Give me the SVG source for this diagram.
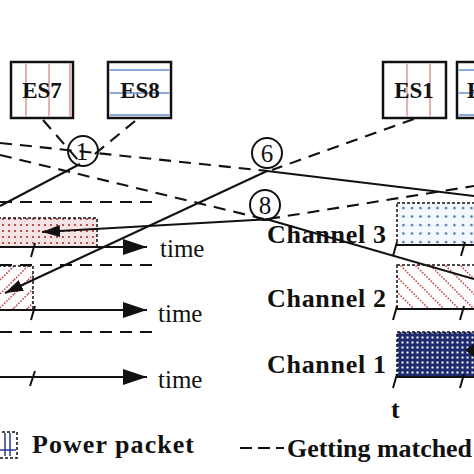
<svg xmlns="http://www.w3.org/2000/svg" width="474" height="474" viewBox="0 0 474 474">
<style>
.box{fill:#fff;stroke:#111;stroke-width:2.5}
.lbl{font-family:"Liberation Serif",serif;font-weight:bold;fill:#111}
.tm{font-family:"Liberation Serif",serif;font-size:25px;fill:#111}
.dash{fill:none;stroke:#111;stroke-width:2.1;stroke-dasharray:12,8}
.sol{fill:none;stroke:#111;stroke-width:2}
.pk{stroke:#111;stroke-width:1.5;stroke-dasharray:3,2}
.circ{fill:none;stroke:#111;stroke-width:2}
.pinkl{stroke:#d99;stroke-width:1.5}
.bluel{stroke:#8fa8d8;stroke-width:2}
</style>
<defs>
<pattern id="pinkDots" width="6" height="6" patternUnits="userSpaceOnUse"><rect width="6" height="6" fill="#f6e4e4"/><circle cx="3" cy="3" r="1.1" fill="#a83232"/></pattern>
<pattern id="blueDots" width="8.5" height="8.5" patternUnits="userSpaceOnUse"><rect width="8.5" height="8.5" fill="#f4f8fd"/><circle cx="4" cy="4" r="1.2" fill="#3c64b0"/></pattern>
<pattern id="hatchF" width="14" height="14" patternUnits="userSpaceOnUse"><rect width="14" height="14" fill="#fff"/><path d="M-2,2 L2,-2 M0,14 L14,0 M12,16 L16,12" stroke="#c84848" stroke-width="1.6" stroke-dasharray="1.6,1.4"/></pattern>
<pattern id="hatchB" width="15" height="15" patternUnits="userSpaceOnUse"><rect width="15" height="15" fill="#fff"/><path d="M-2,13 L2,17 M0,0 L15,15 M13,-2 L17,2" stroke="#c84848" stroke-width="1.6" stroke-dasharray="1.6,1.4"/></pattern>
<pattern id="navy" width="5" height="5" patternUnits="userSpaceOnUse"><rect width="5" height="5" fill="#1d2a6e"/><rect x="1.5" y="1.5" width="2" height="2" fill="#fff"/></pattern>
<marker id="big" markerWidth="24" markerHeight="16" refX="24" refY="8" orient="auto" markerUnits="userSpaceOnUse"><path d="M0,0 L24,8 L0,16 z" fill="#111"/></marker>
<marker id="sm" markerWidth="18" markerHeight="12" refX="18" refY="6" orient="auto" markerUnits="userSpaceOnUse"><path d="M0,0 L18,6 L0,12 z" fill="#111"/></marker>
</defs>
<rect width="474" height="474" fill="#fff"/>

<!-- channel boxes -->
<g id="left-ch3"><rect x="-2" y="218" width="99" height="29" fill="url(#pinkDots)" class="pk"/></g>
<g id="left-ch2"><rect x="-2" y="266" width="35" height="44" fill="url(#hatchF)" class="pk"/></g>
<g id="right-ch3"><rect x="397" y="203" width="80" height="42" fill="url(#blueDots)" class="pk"/></g>
<g id="right-ch2"><rect x="397" y="265" width="80" height="44" fill="url(#hatchB)" class="pk"/></g>
<g id="right-ch1"><rect x="397" y="332" width="80" height="45" fill="url(#navy)" class="pk"/><path d="M465,350 L474,344 L474,357 z" fill="#111"/></g>

<!-- ES nodes -->
<g id="ES7"><rect x="11" y="62" width="62" height="56" class="box"/><path d="M26,63.5V116.5M49,63.5V116.5M70,63.5V116.5" class="pinkl"/><text x="42" y="98" text-anchor="middle" class="lbl" font-size="23">ES7</text></g>
<g id="ES8"><rect x="108" y="62" width="63" height="56" class="box"/><path d="M109.5,70H169.5M109.5,93H169.5M109.5,115H169.5" class="bluel"/><text x="140" y="98" text-anchor="middle" class="lbl" font-size="23">ES8</text></g>
<g id="ES1"><rect x="383" y="62" width="63" height="56" class="box"/><path d="M407,63.5V116.5M430,63.5V116.5" class="pinkl"/><text x="414" y="98" text-anchor="middle" class="lbl" font-size="23">ES1</text></g>
<g id="ES2"><rect x="457" y="62" width="40" height="56" class="box"/><path d="M458.5,70H476M458.5,93H476M458.5,115H476" class="bluel"/><text x="467" y="98" class="lbl" font-size="23">ES2</text></g>

<!-- match circles -->
<g id="m1"><circle cx="83" cy="151" r="15" class="circ"/><text x="82" y="160" text-anchor="middle" class="tm" font-size="23">1</text></g>
<g id="m6"><circle cx="267" cy="153" r="15" class="circ"/><text x="267" y="162" text-anchor="middle" class="tm" font-size="26">6</text></g>
<g id="m8"><circle cx="265" cy="205" r="15" class="circ"/><text x="265" y="214" text-anchor="middle" class="tm" font-size="26">8</text></g>

<!-- connectors -->
<g id="connectors">
<path class="dash" d="M0,143 L268,171"/>
<path class="dash" d="M0,155 L264,219"/>
<path class="dash" d="M0,202 H160"/>
<path class="dash" d="M0,265 H157"/>
<path class="dash" d="M0,332 H157"/>
<path class="dash" d="M43,120 L78,160"/>
<path class="dash" d="M135,121 L90,158"/>
<path class="dash" d="M414,119 L272,170"/>
<path class="dash" d="M268,219 L474,186"/>
<path class="sol" d="M0,206 L80,164"/>
<path class="sol" d="M267,171 L474,196"/>
<path class="sol" d="M267,171 L5,293" marker-end="url(#sm)"/>
<path class="sol" d="M272,219 L42,232" marker-end="url(#sm)"/>
<path class="sol" d="M266,219 L474,279"/>
<path class="sol" d="M0,247 H147" marker-end="url(#big)"/>
<path class="sol" d="M0,310 H147" marker-end="url(#big)"/>
<path class="sol" d="M0,377 H147" marker-end="url(#big)"/>
<path class="sol" d="M397,245 H474 M397,309 H474 M397,377 H474"/>
<path class="sol" stroke-width="2" d="M31,257 L35,243 M31,320 L35,306 M30,386 L35,371 M393,256 L397,242 M461,256 L465,242 M393,320 L397,306 M460,320 L464,306 M393,388 L397,374 M460,388 L464,374"/>
</g>

<!-- labels -->
<text x="160" y="257" class="tm">time</text>
<text x="158" y="322" class="tm">time</text>
<text x="158" y="388" class="tm">time</text>
<text x="267" y="243" class="lbl" font-size="26" textLength="119" lengthAdjust="spacing">Channel 3</text>
<text x="267" y="307" class="lbl" font-size="26" textLength="119" lengthAdjust="spacing">Channel 2</text>
<text x="267" y="373" class="lbl" font-size="26" textLength="119" lengthAdjust="spacing">Channel 1</text>
<text x="391" y="418" class="lbl" font-size="26">t</text>

<!-- legend -->
<g id="legend-packet"><rect x="-3" y="432" width="20" height="26" fill="#fff" class="pk"/><path d="M5,433V456M10,433V456M-2,450H16" stroke="#2a3a8a" stroke-width="1.5"/><text x="32" y="453" class="lbl" font-size="26" textLength="162" lengthAdjust="spacing">Power packet</text></g>
<g id="legend-match"><path d="M240,448 H284" stroke="#111" stroke-width="2" stroke-dasharray="12,6"/><text x="287" y="457" class="lbl" font-size="26" textLength="185" lengthAdjust="spacingAndGlyphs">Getting matched</text></g>
</svg>
